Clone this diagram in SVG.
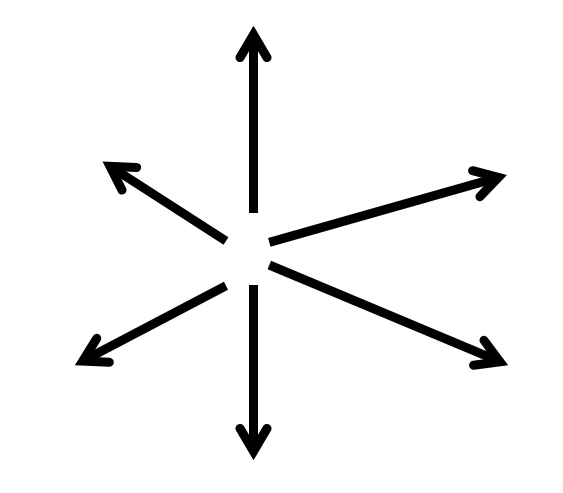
<svg xmlns="http://www.w3.org/2000/svg" width="563" height="493" viewBox="0 0 563 493">
  <style>
    .shaft { stroke: #000; stroke-width: 9; stroke-linecap: butt; fill: none; }
    .head { stroke: #000; stroke-width: 9; stroke-linecap: round; stroke-linejoin: miter; stroke-miterlimit: 10; fill: none; }
  </style>
  <defs>
    <marker id="arrow" markerUnits="userSpaceOnUse" viewBox="-30 -20 40 40" markerWidth="40" markerHeight="40" refX="0" refY="0" orient="auto" overflow="visible">
      <path class="head" d="M-23,-13.5 L0,0 L-23,13.5"/>
    </marker>
  </defs>
  <rect width="563" height="493" fill="#fff"/>
  <g id="connectors">
    <line id="up" class="shaft" x1="253.5" y1="213" x2="253.5" y2="34.6" marker-end="url(#arrow)"/>
    <line id="down" class="shaft" x1="253.5" y1="285" x2="253.5" y2="451.4" marker-end="url(#arrow)"/>
    <line id="upper-left" class="shaft" x1="226" y1="241" x2="110" y2="166.3" marker-end="url(#arrow)"/>
    <line id="upper-right" class="shaft" x1="269.3" y1="242.3" x2="498.4" y2="177.4" marker-end="url(#arrow)"/>
    <line id="lower-right" class="shaft" x1="269.3" y1="265" x2="500" y2="361.7" marker-end="url(#arrow)"/>
    <line id="lower-left" class="shaft" x1="226" y1="285.7" x2="82.7" y2="361" marker-end="url(#arrow)"/>
  </g>
</svg>
